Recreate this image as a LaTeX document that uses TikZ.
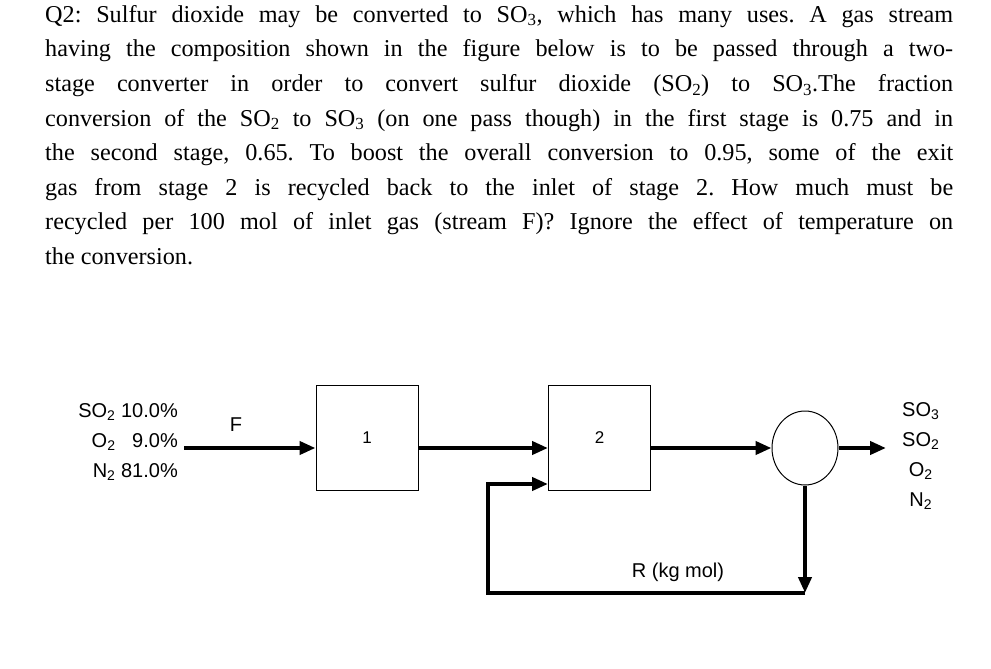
\documentclass[tikz,border=0pt]{standalone}
\usepackage{fontspec}
\setmainfont{Liberation Serif}
\newfontfamily\diag{Liberation Sans}
\usetikzlibrary{arrows.meta,shapes.geometric}
\newcommand{\sbs}[1]{\textsubscript{#1}}
\begin{document}
\begin{tikzpicture}[x=1pt,y=-1pt,
  line/.style={line width=4pt},
  arr/.style={line, -{Triangle[length=16pt,width=13pt]}},
  unit/.style={draw, line width=1pt, minimum width=102pt, minimum height=105pt, inner sep=0pt, font=\diag\fontsize{17}{20}\selectfont},
  lbl/.style={font=\diag\fontsize{20}{30}\selectfont, inner sep=0pt}]
\useasboundingbox (0,0) rectangle (991,669);
\node[anchor=north west, text width=908pt, align=justify, inner sep=0pt, font=\fontsize{24.2}{34.6}\selectfont\frenchspacing] (q) at (45,5)
{Q2: Sulfur dioxide may be converted to SO\sbs{3}, which has many uses. A gas stream\linebreak
having the composition shown in the figure below is to be passed through a two-\linebreak
stage converter in order to convert sulfur dioxide (SO\sbs{2}) to SO\sbs{3}.The fraction\linebreak
conversion of the SO\sbs{2} to SO\sbs{3} (on one pass though) in the first stage is 0.75 and in\linebreak
the second stage, 0.65. To boost the overall conversion to 0.95, some of the exit\linebreak
gas from stage 2 is recycled back to the inlet of stage 2. How much must be\linebreak
recycled per 100 mol of inlet gas (stream F)? Ignore the effect of temperature on\linebreak
the conversion.};
\node[unit] (u1) at (367,437.5) {1};
\node[unit] (u2) at (599.5,437.5) {2};
\node[draw, line width=1pt, ellipse, minimum width=66pt, minimum height=74pt, inner sep=0pt] (sep) at (805,448) {};
\node[lbl, anchor=east, align=right] (feed) at (178,442) {SO\sbs{2} 10.0\%\\O\sbs{2} \ \ 9.0\%\\N\sbs{2} 81.0\%};
\node[lbl, anchor=west, align=center] (prod) at (902,456) {SO\sbs{3}\\SO\sbs{2}\\O\sbs{2}\\N\sbs{2}};
\node[lbl] (F) at (236,425) {F};
\node[lbl] (R) at (678,572) {R (kg mol)};
\coordinate (fin) at (184,448);
\coordinate (bl) at (805,593);
\coordinate (br) at (488,593);
\coordinate (bu) at (488,484);
\coordinate (pout) at (886,448);
\draw[arr] (fin) -- (u1.west |- fin);
\draw[arr] (u1.east |- fin) -- (u2.west |- fin);
\draw[arr] (u2.east |- fin) -- (sep.west);
\draw[arr] (sep.east) -- (pout);
\draw[arr] (sep.south) -- (bl);
\draw[line] (bl) -- (br) -- (bu);
\draw[arr] ([xshift=-2pt]bu) -- (u2.west |- bu);
\end{tikzpicture}
\end{document}
